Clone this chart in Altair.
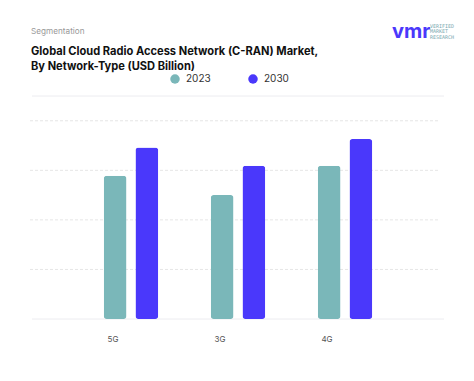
import altair as alt
import pandas as pd

categories = ["5G", "3G", "4G"]
years = ["2023", "2030"]
values_2023 = [2.89, 2.50, 3.09]
values_2030 = [3.46, 3.09, 3.63]
grid_values = [1, 2, 3, 4]
frame_values = [0, 4.5]
kicker = ["Segmentation"]
title_lines = ["Global Cloud Radio Access Network (C-RAN) Market,", "By Network-Type (USD Billion)"]
logo_words = ["VERIFIED", "MARKET", "RESEARCH"]

rows = []
for c, a, b in zip(categories, values_2023, values_2030):
    rows.append({"segment": c, "year": years[0], "value": a})
    rows.append({"segment": c, "year": years[1], "value": b})
df = pd.DataFrame(rows)

W, H = 412, 223
y_scale = alt.Scale(domain=[0, 4.5], nice=False, zero=True)
x_scale = alt.Scale(domain=categories, paddingInner=0.49, paddingOuter=0.67)

grid = alt.Chart(pd.DataFrame({"g": grid_values})).mark_rule(
    color="#e6e6e6", strokeDash=[3, 2], strokeWidth=1
).encode(y=alt.Y("g:Q", scale=y_scale, axis=None), x=alt.value(-2), x2=alt.value(408))

frame = alt.Chart(pd.DataFrame({"f": frame_values})).mark_rule(
    color="#ececf0", strokeWidth=1
).encode(y=alt.Y("f:Q", scale=y_scale, axis=None), x=alt.value(0), x2=alt.value(W))

bars = alt.Chart(df).mark_bar(cornerRadius=3).encode(
    x=alt.X("segment:N", sort=categories, scale=x_scale, axis=None),
    xOffset=alt.XOffset("year:N", scale=alt.Scale(paddingInner=0.28, paddingOuter=0)),
    y=alt.Y("value:Q", scale=y_scale, axis=None),
    color=alt.Color(
        "year:N",
        scale=alt.Scale(domain=years, range=["#7ab7b9", "#4a38fb"]),
        legend=alt.Legend(
            title=None, orient="none", legendX=138, legendY=-22, direction="horizontal",
            symbolType="circle", symbolSize=90, symbolStrokeWidth=0, labelFontSize=10,
            labelFont="Inter", labelColor="#333333", columnPadding=37, labelOffset=6,
        ),
    ),
)

xlabels = alt.Chart(pd.DataFrame({"segment": categories})).mark_text(
    font="Inter", fontSize=8, color="#555555", dx=-18, baseline="middle"
).encode(x=alt.X("segment:N", sort=categories, scale=x_scale, axis=None), y=alt.value(H + 21), text="segment:N")

kick = alt.Chart(pd.DataFrame({"t": kicker})).mark_text(
    align="left", baseline="middle", font="Inter", fontSize=8.2, color="#999999"
).encode(text="t:N", x=alt.value(-1), y=alt.value(-64))

t1 = alt.Chart(pd.DataFrame({"t": title_lines[:1]})).mark_text(
    align="left", baseline="middle", font="Inter", fontSize=11.1, fontWeight="bold", color="#111111"
).encode(text="t:N", x=alt.value(-1), y=alt.value(-44))

t2 = alt.Chart(pd.DataFrame({"t": title_lines[1:]})).mark_text(
    align="left", baseline="middle", font="Inter", fontSize=11.1, fontWeight="bold", color="#111111"
).encode(text="t:N", x=alt.value(-1), y=alt.value(-29))

logo = alt.Chart(pd.DataFrame({"t": ["vmr"]})).mark_text(
    align="left", baseline="alphabetic", font="Inter", fontSize=20, fontWeight="bold", color="#4a38fb"
).encode(text="t:N", x=alt.value(360), y=alt.value(-58))

logo_txt = alt.Chart(pd.DataFrame({"t": logo_words, "i": [0, 1, 2]})).mark_text(
    align="left", baseline="middle", font="DejaVu Sans Mono", fontSize=5, color="#7aa9b0"
).encode(text="t:N", x=alt.value(398), y=alt.Y("i:Q", scale=alt.Scale(domain=[0, 2], range=[-70.5, -59.5]), axis=None))

chart = alt.layer(grid, frame, bars, xlabels, kick, t1, t2, logo, logo_txt).resolve_scale(y="independent").properties(
    width=W, height=H,
    background="white",
    autosize=alt.AutoSizeParams(type="none"),
    padding={"left": 24, "top": 88, "right": 22, "bottom": 54},
).configure_view(strokeWidth=0, stroke="transparent")

chart.save("out.html", embed_options={"renderer": "svg", "actions": False})
